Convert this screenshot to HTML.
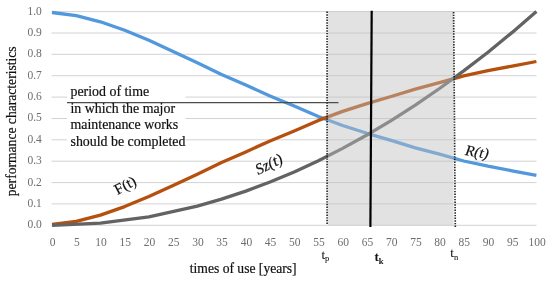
<!DOCTYPE html>
<html><head><meta charset="utf-8"><title>chart</title>
<style>
html,body{margin:0;padding:0;background:#fff}
svg{display:block}
.ser{font-family:"Liberation Serif",serif;fill:#111;stroke:#111;stroke-width:0.2px}
.num{font-family:"Liberation Serif",serif;font-size:11.5px;fill:#6e6e6e}
</style></head><body>
<svg width="550" height="281" viewBox="0 0 550 281">
<rect width="550" height="281" fill="#fff"/>
<g stroke="#d3d3d3" stroke-width="1"><line x1="51.5" x2="536.5" y1="225.3" y2="225.3"/><line x1="51.5" x2="536.5" y1="203.9" y2="203.9"/><line x1="51.5" x2="536.5" y1="182.6" y2="182.6"/><line x1="51.5" x2="536.5" y1="161.2" y2="161.2"/><line x1="51.5" x2="536.5" y1="139.8" y2="139.8"/><line x1="51.5" x2="536.5" y1="118.5" y2="118.5"/><line x1="51.5" x2="536.5" y1="97.1" y2="97.1"/><line x1="51.5" x2="536.5" y1="75.7" y2="75.7"/><line x1="51.5" x2="536.5" y1="54.3" y2="54.3"/><line x1="51.5" x2="536.5" y1="33.0" y2="33.0"/><line x1="51.5" x2="536.5" y1="11.6" y2="11.6"/></g>
<g class="num" text-anchor="end"><text x="41.8" y="228.2">0.0</text><text x="41.8" y="206.8">0.1</text><text x="41.8" y="185.5">0.2</text><text x="41.8" y="164.1">0.3</text><text x="41.8" y="142.7">0.4</text><text x="41.8" y="121.4">0.5</text><text x="41.8" y="100.0">0.6</text><text x="41.8" y="78.6">0.7</text><text x="41.8" y="57.2">0.8</text><text x="41.8" y="35.9">0.9</text><text x="41.8" y="14.5">1.0</text></g>
<g class="num" text-anchor="middle"><text x="52.6" y="246">0</text><text x="76.8" y="246">5</text><text x="101.0" y="246">10</text><text x="125.3" y="246">15</text><text x="149.5" y="246">20</text><text x="173.7" y="246">25</text><text x="197.9" y="246">30</text><text x="222.1" y="246">35</text><text x="246.4" y="246">40</text><text x="270.6" y="246">45</text><text x="294.8" y="246">50</text><text x="319.0" y="246">55</text><text x="343.2" y="246">60</text><text x="367.5" y="246">65</text><text x="391.7" y="246">70</text><text x="415.9" y="246">75</text><text x="440.1" y="246">80</text><text x="464.3" y="246">85</text><text x="488.6" y="246">90</text><text x="512.8" y="246">95</text><text x="537.0" y="246">100</text></g>
<rect x="67" y="82" width="118.4" height="72" fill="#fff"/>
<g fill="none" stroke-width="3.3" stroke-linejoin="round" stroke-linecap="butt">
<polyline stroke="#5198dc" points="52.0,12.5 76.2,15.6 100.4,21.8 124.7,30.3 148.9,40.3 173.1,51.5 197.3,62.7 221.5,74.4 245.8,85.0 270.0,96.0 294.2,106.0 318.4,116.5 342.6,125.5 366.9,133.3 391.1,140.4 415.3,147.8 439.5,154.2 463.7,161.0 488.0,166.2 512.2,170.8 536.4,175.4"/>
<polyline stroke="#b5500f" points="52.0,224.4 76.2,221.3 100.4,215.1 124.7,206.6 148.9,196.6 173.1,185.4 197.3,174.2 221.5,162.5 245.8,151.9 270.0,140.9 294.2,130.9 318.4,120.4 342.6,111.4 366.9,103.6 391.1,96.5 415.3,89.1 439.5,82.7 463.7,75.9 488.0,70.7 512.2,66.1 536.4,61.5"/>
<polyline stroke="#636363" points="52.0,225.3 100.4,223.2 148.9,216.8 197.3,206.1 221.5,199.1 245.8,191.1 270.0,182.0 294.2,171.9 318.4,160.7 342.6,148.4 366.9,135.0 391.1,120.6 415.3,105.1 439.5,88.5 463.7,70.9 488.0,52.2 512.2,32.4 536.4,11.6"/>
</g>
<rect x="327.9" y="11.3" width="125.7" height="214" fill="rgb(190,190,190)" fill-opacity="0.45"/>
<line x1="67" x2="338.5" y1="102.7" y2="102.7" stroke="#4d4d4d" stroke-width="1.3"/>
<line x1="327.1" x2="327.1" y1="11.6" y2="224" stroke="#2a2a2a" stroke-width="1.7" stroke-dasharray="1.4 1.27"/>
<line x1="453.6" x2="455.3" y1="12" y2="228" stroke="#2a2a2a" stroke-width="1.7" stroke-dasharray="1.4 1.27"/>
<line x1="371.7" x2="370.4" y1="10.8" y2="227" stroke="#000" stroke-width="2.2"/>
<g class="ser" font-size="13.9px">
<text x="70.5" y="95.8">period of time</text>
<text x="70.5" y="112.6">in which the major</text>
<text x="70.5" y="129.4">maintenance works</text>
<text x="70.5" y="146.2">should be completed</text>
</g>
<text class="ser" font-size="13.6px" text-anchor="middle" transform="translate(15.8,121.3) rotate(-90)">performance characteristics</text>
<text class="ser" font-size="13.6px" text-anchor="middle" x="243.2" y="272.7">times of use [years]</text>
<text class="ser" font-size="15px" text-anchor="middle" transform="translate(127.5,189.6) rotate(-28)">F(t)</text>
<text class="ser" font-size="15.5px" font-style="italic" text-anchor="middle" transform="translate(271,168.7) rotate(-26)">Sz(t)</text>
<text class="ser" font-size="15px" font-style="italic" text-anchor="middle" transform="translate(476.3,156.8) rotate(9)">R(t)</text>
<text class="ser" style="stroke-width:0.05px" font-size="13px" x="321.4" y="258.7">t<tspan font-size="8.5px" dy="2.5">p</tspan></text>
<text class="ser" style="stroke-width:0" font-size="13px" font-weight="bold" x="374.4" y="261">t<tspan font-size="8.5px" dy="2.5">k</tspan></text>
<text class="ser" style="stroke-width:0.05px" font-size="13px" x="450.3" y="257.4">t<tspan font-size="8.5px" dy="2.5">n</tspan></text>
</svg>
</body></html>
